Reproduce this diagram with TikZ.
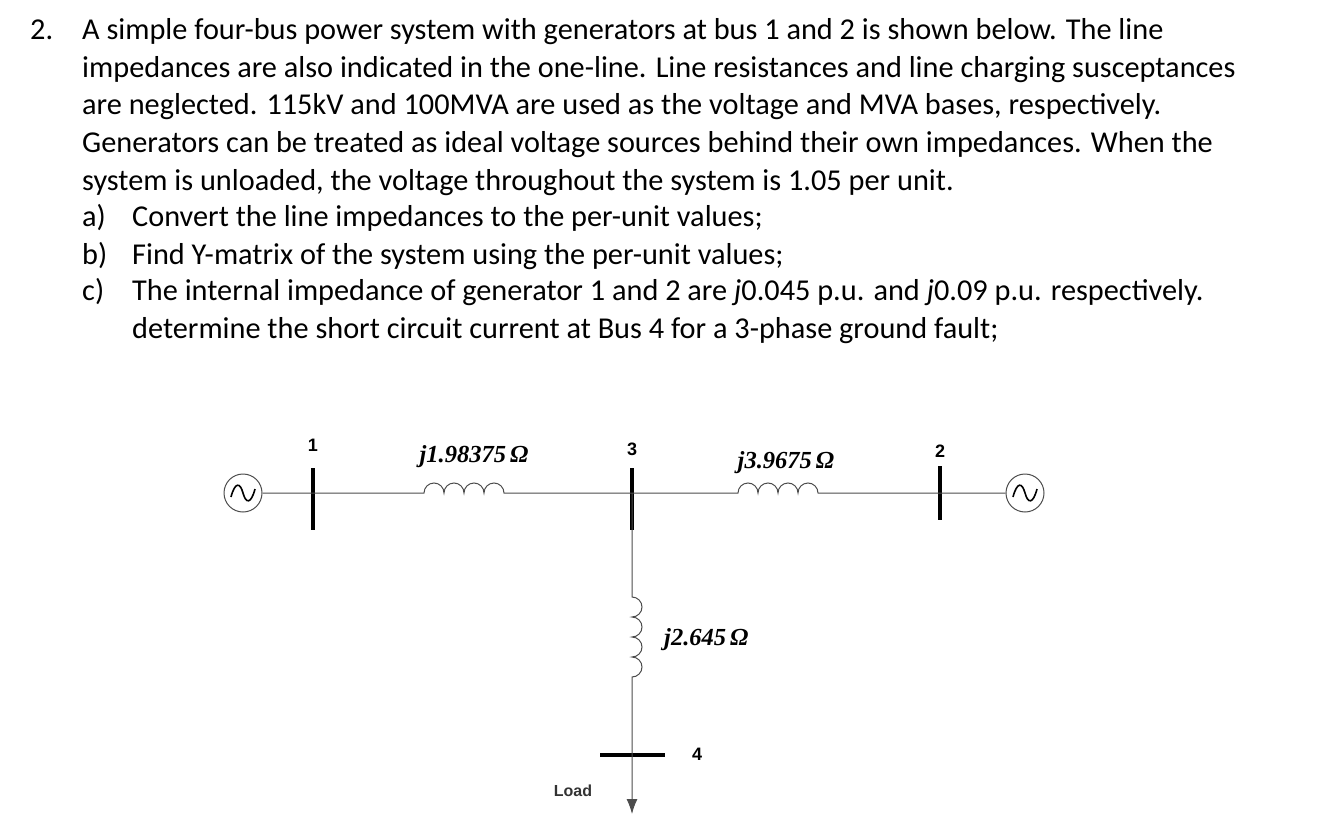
\documentclass[tikz,border=0pt]{standalone}
\usetikzlibrary{arrows.meta}
\usepackage{fontspec}
\setmainfont{Carlito}
\newfontfamily\serifbi{Liberation Serif}
\newfontfamily\lsans{Liberation Sans}
\begin{document}
\begin{tikzpicture}[x=1pt,y=-1pt,
  body/.style={anchor=base west,inner sep=0pt,font=\fontsize{30.3}{37}\selectfont},
  lbl/.style={inner sep=0pt,font=\serifbi\bfseries\itshape\fontsize{24.5}{26}\selectfont},
  busnum/.style={inner sep=0pt,font=\lsans\bfseries\fontsize{18}{20}\selectfont},
  bar/.style={line width=4pt},
  wire/.style={line width=1pt,draw=black!70},
  gen/.style={circle,draw=black!70,line width=1pt,minimum size=38pt,inner sep=0pt}]
\useasboundingbox (0,0) rectangle (1319,840);
% text
\node[body] (n2) at (30,40) {2.};
\node[body] (t1) at (82,40) {A simple four-bus power system with generators at bus 1 and 2 is shown below. The line};
\node[body] (t2) at (82,78) {impedances are also indicated in the one-line. Line resistances and line charging susceptances};
\node[body] (t3) at (82,115) {are neglected. 115kV and 100MVA are used as the voltage and MVA bases, respectively.};
\node[body] (t4) at (82,152) {Generators can be treated as ideal voltage sources behind their own impedances. When the};
\node[body] (t5) at (82,190) {system is unloaded, the voltage throughout the system is 1.05 per unit.};
\node[body] (a) at (82,226) {a)};
\node[body] (ta) at (132,226) {Convert the line impedances to the per-unit values;};
\node[body] (b) at (82,264) {b)};
\node[body] (tb) at (132,264) {Find Y-matrix of the system using the per-unit values;};
\node[body] (c) at (82,300) {c)};
\node[body] (tc) at (132,300) {The internal impedance of generator 1 and 2 are \textit{j}0.045 p.u. and \textit{j}0.09 p.u. respectively.};
\node[body] (tc2) at (132,338) {determine the short circuit current at Bus 4 for a 3-phase ground fault;};
% diagram
\node[gen] (g1) at (243,493) {};
\draw[line width=1.6pt] (231,497) .. controls (235,482) and (240,482) .. (243,493) .. controls (246,504) and (251,504) .. (255,489);
\node[gen] (g2) at (1025,493) {};
\draw[line width=1.6pt] (1013,497) .. controls (1017,482) and (1022,482) .. (1025,493) .. controls (1028,504) and (1033,504) .. (1037,489);
\coordinate (b1t) at (313,468); \coordinate (b1b) at (313,530);
\coordinate (b3t) at (632,468); \coordinate (b3b) at (632,530);
\coordinate (b2t) at (940,466); \coordinate (b2b) at (940,520);
\coordinate (b4l) at (600,755); \coordinate (b4r) at (665,755);
\draw[bar] (b1t) -- (b1b);
\draw[bar] (b3t) -- (b3b);
\draw[bar] (b2t) -- (b2b);
\draw[bar] (b4l) -- (b4r);
\node[busnum] (l1) at (313,445) {1};
\node[busnum] (l3) at (632,449) {3};
\node[busnum] (l2) at (940,451) {2};
\node[busnum] (l4) at (697,754) {4};
% line 1-3
\draw[wire] (g1.east) -- (313,493) -- (424,493)
  arc(180:360:10) arc(180:360:10) arc(180:360:10) arc(180:360:10) -- (522,493) -- (632,493);
% line 3-2
\draw[wire] (632,493) -- (738,493)
  arc(180:360:10) arc(180:360:10) arc(180:360:10) arc(180:360:10) -- (836,493) -- (940,493) -- (g2.west);
% line 3-4
\draw[wire,-{Latex[length=15pt,width=11pt]}] (632,493) -- (632,597)
  arc(-90:90:10) arc(-90:90:10) arc(-90:90:10) arc(-90:90:10) -- (632,755) -- (632,814);
\node[lbl] (z1) at (474,457) {j1.98375\,Ω};
\node[lbl] (z2) at (786,463) {j3.9675\,Ω};
\node[lbl,anchor=west] (z3) at (664,640) {j2.645\,Ω};
\node[inner sep=0pt,font=\lsans\bfseries\fontsize{16}{18}\selectfont,text=black!80] (load) at (573,791) {Load};
\end{tikzpicture}
\end{document}
